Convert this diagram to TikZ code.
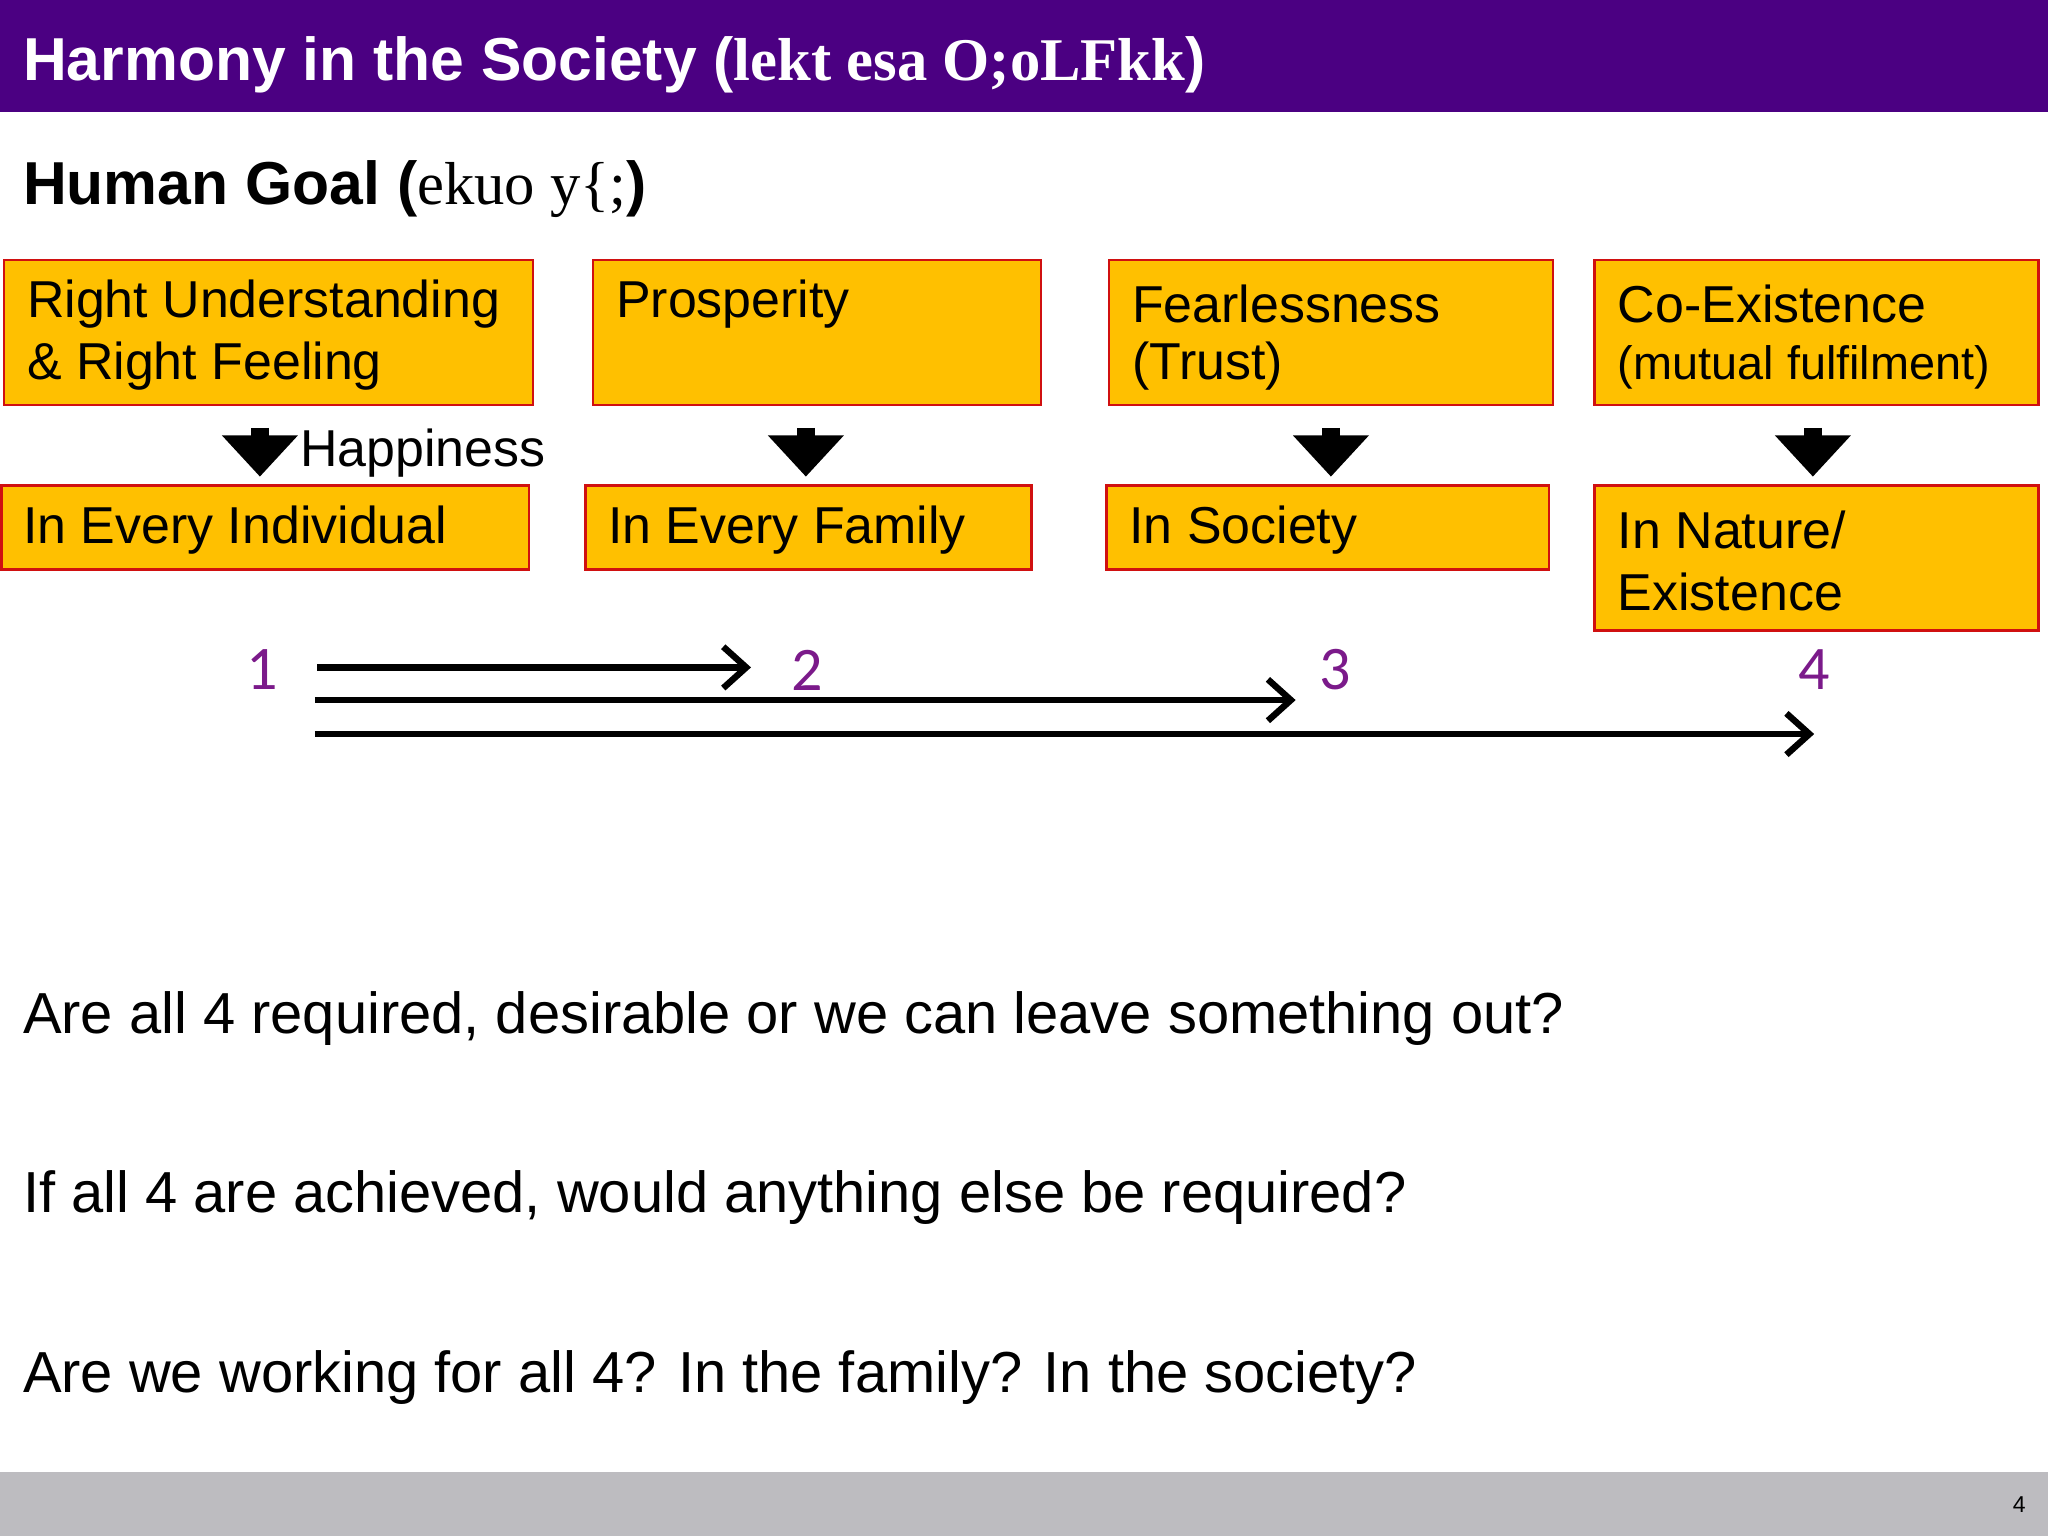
\documentclass[tikz,border=0pt]{standalone}
\usepackage{fontspec}
\setmainfont{Liberation Sans}
\newfontfamily\serifx{Liberation Serif}
\newfontfamily\numfont{Carlito}
\usetikzlibrary{arrows.meta}
\definecolor{purp}{HTML}{4B0082}
\definecolor{boxy}{HTML}{FFC000}
\definecolor{boxr}{HTML}{D01010}
\definecolor{nump}{HTML}{7B1A8A}
\definecolor{foot}{HTML}{BDBCC0}
\begin{document}
\begin{tikzpicture}[x=0.01cm,y=-0.01cm,
  box/.style={draw=boxr,fill=boxy,line width=0.6pt},
  txt/.style={anchor=west,inner sep=0pt,font=\fontsize{11.3}{13}\selectfont},
  q/.style={anchor=west,inner sep=0pt,font=\fontsize{12.6}{15}\selectfont},
  num/.style={inner sep=0pt,text=nump,font=\numfont\fontsize{13.5}{15}\selectfont},
  down/.style={-{Triangle[width=16pt,length=9pt]},line width=4pt,shorten <=5pt,shorten >=2pt},
  flow/.style={-{Straight Barb[length=5pt,width=9pt]},line width=1.4pt}]
\useasboundingbox (0,0) rectangle (1568,1176);
\fill[purp] (0,0) rectangle (1568,86);
\fill[foot] (0,1127) rectangle (1568,1176);
\node (pg) at (1546,1152) {\fontsize{5}{6}\selectfont 4};
\node[anchor=west,inner sep=0pt,text=white] (title) at (17,50) {\fontsize{13.2}{15}\selectfont\bfseries Harmony in the Society ({\serifx lekt esa O;oLFkk})};
\node[anchor=west,inner sep=0pt] (goal) at (17,145) {\fontsize{13.2}{15}\selectfont\bfseries Human Goal ({\serifx\mdseries ekuo y\{;})};
% boxes
\path[box] (3,199) rectangle (408,310) node[midway] (b1) {};
\path[box] (454,199) rectangle (797,310) node[midway] (b2) {};
\path[box] (849,199) rectangle (1189,310) node[midway] (b3) {};
\path[box] (1221,199) rectangle (1561,310) node[midway] (b4) {};
\path[box] (1,372) rectangle (405,436) node[midway] (c1) {};
\path[box] (448,372) rectangle (790,436) node[midway] (c2) {};
\path[box] (847,372) rectangle (1186,436) node[midway] (c3) {};
\path[box] (1221,372) rectangle (1561,483) node[midway] (c4) {};
\node[txt] (t1a) at (20,233) {Right Understanding};
\node[txt] (t1b) at (20,280) {\& Right Feeling};
\node[txt] (t2) at (471,233) {Prosperity};
\node[txt] (t3a) at (866,233) {Fearlessness};
\node[txt] (t3b) at (866,280) {(Trust)};
\node[txt] (t4a) at (1238,233) {Co-Existence};
\node[txt,font=\fontsize{10.2}{12}\selectfont] (t4b) at (1238,281) {(mutual fulfilment)};
\node[txt] (u1) at (17,406) {In Every Individual};
\node[txt] (u2) at (465,406) {In Every Family};
\node[txt] (u3) at (864,406) {In Society};
\node[txt] (u4a) at (1238,406) {In Nature/};
\node[txt] (u4b) at (1238,453) {Existence};
\node[txt] (hap) at (229,347) {Happiness};
\coordinate (a1s) at (199,310); \coordinate (a1e) at (199,372);
\coordinate (a2s) at (617,310); \coordinate (a2e) at (617,372);
\coordinate (a3s) at (1019,310); \coordinate (a3e) at (1019,372);
\coordinate (a4s) at (1388,310); \coordinate (a4e) at (1388,372);
\draw[down] (a1s) -- (a1e);
\draw[down] (a2s) -- (a2e);
\draw[down] (a3s) -- (a3e);
\draw[down] (a4s) -- (a4e);
\node[num] (n1) at (201,513) {1};
\node[num] (n2) at (618,513) {2};
\node[num] (n3) at (1022,513) {3};
\node[num] (n4) at (1389,513) {4};
\coordinate (f1) at (243,511); \coordinate (f1e) at (575,511);
\coordinate (f2) at (241,536); \coordinate (f2e) at (992,536);
\coordinate (f3) at (241,562); \coordinate (f3e) at (1389,562);
\draw[flow] (f1) -- (f1e);
\draw[flow] (f2) -- (f2e);
\draw[flow] (f3) -- (f3e);
\node[q] (q1) at (17,780) {Are all 4 required, desirable or we can leave something out?};
\node[q] (q2) at (17,917) {If all 4 are achieved, would anything else be required?};
\node[q] (q3) at (17,1055) {Are we working for all 4? In the family? In the society?};
\end{tikzpicture}
\end{document}
